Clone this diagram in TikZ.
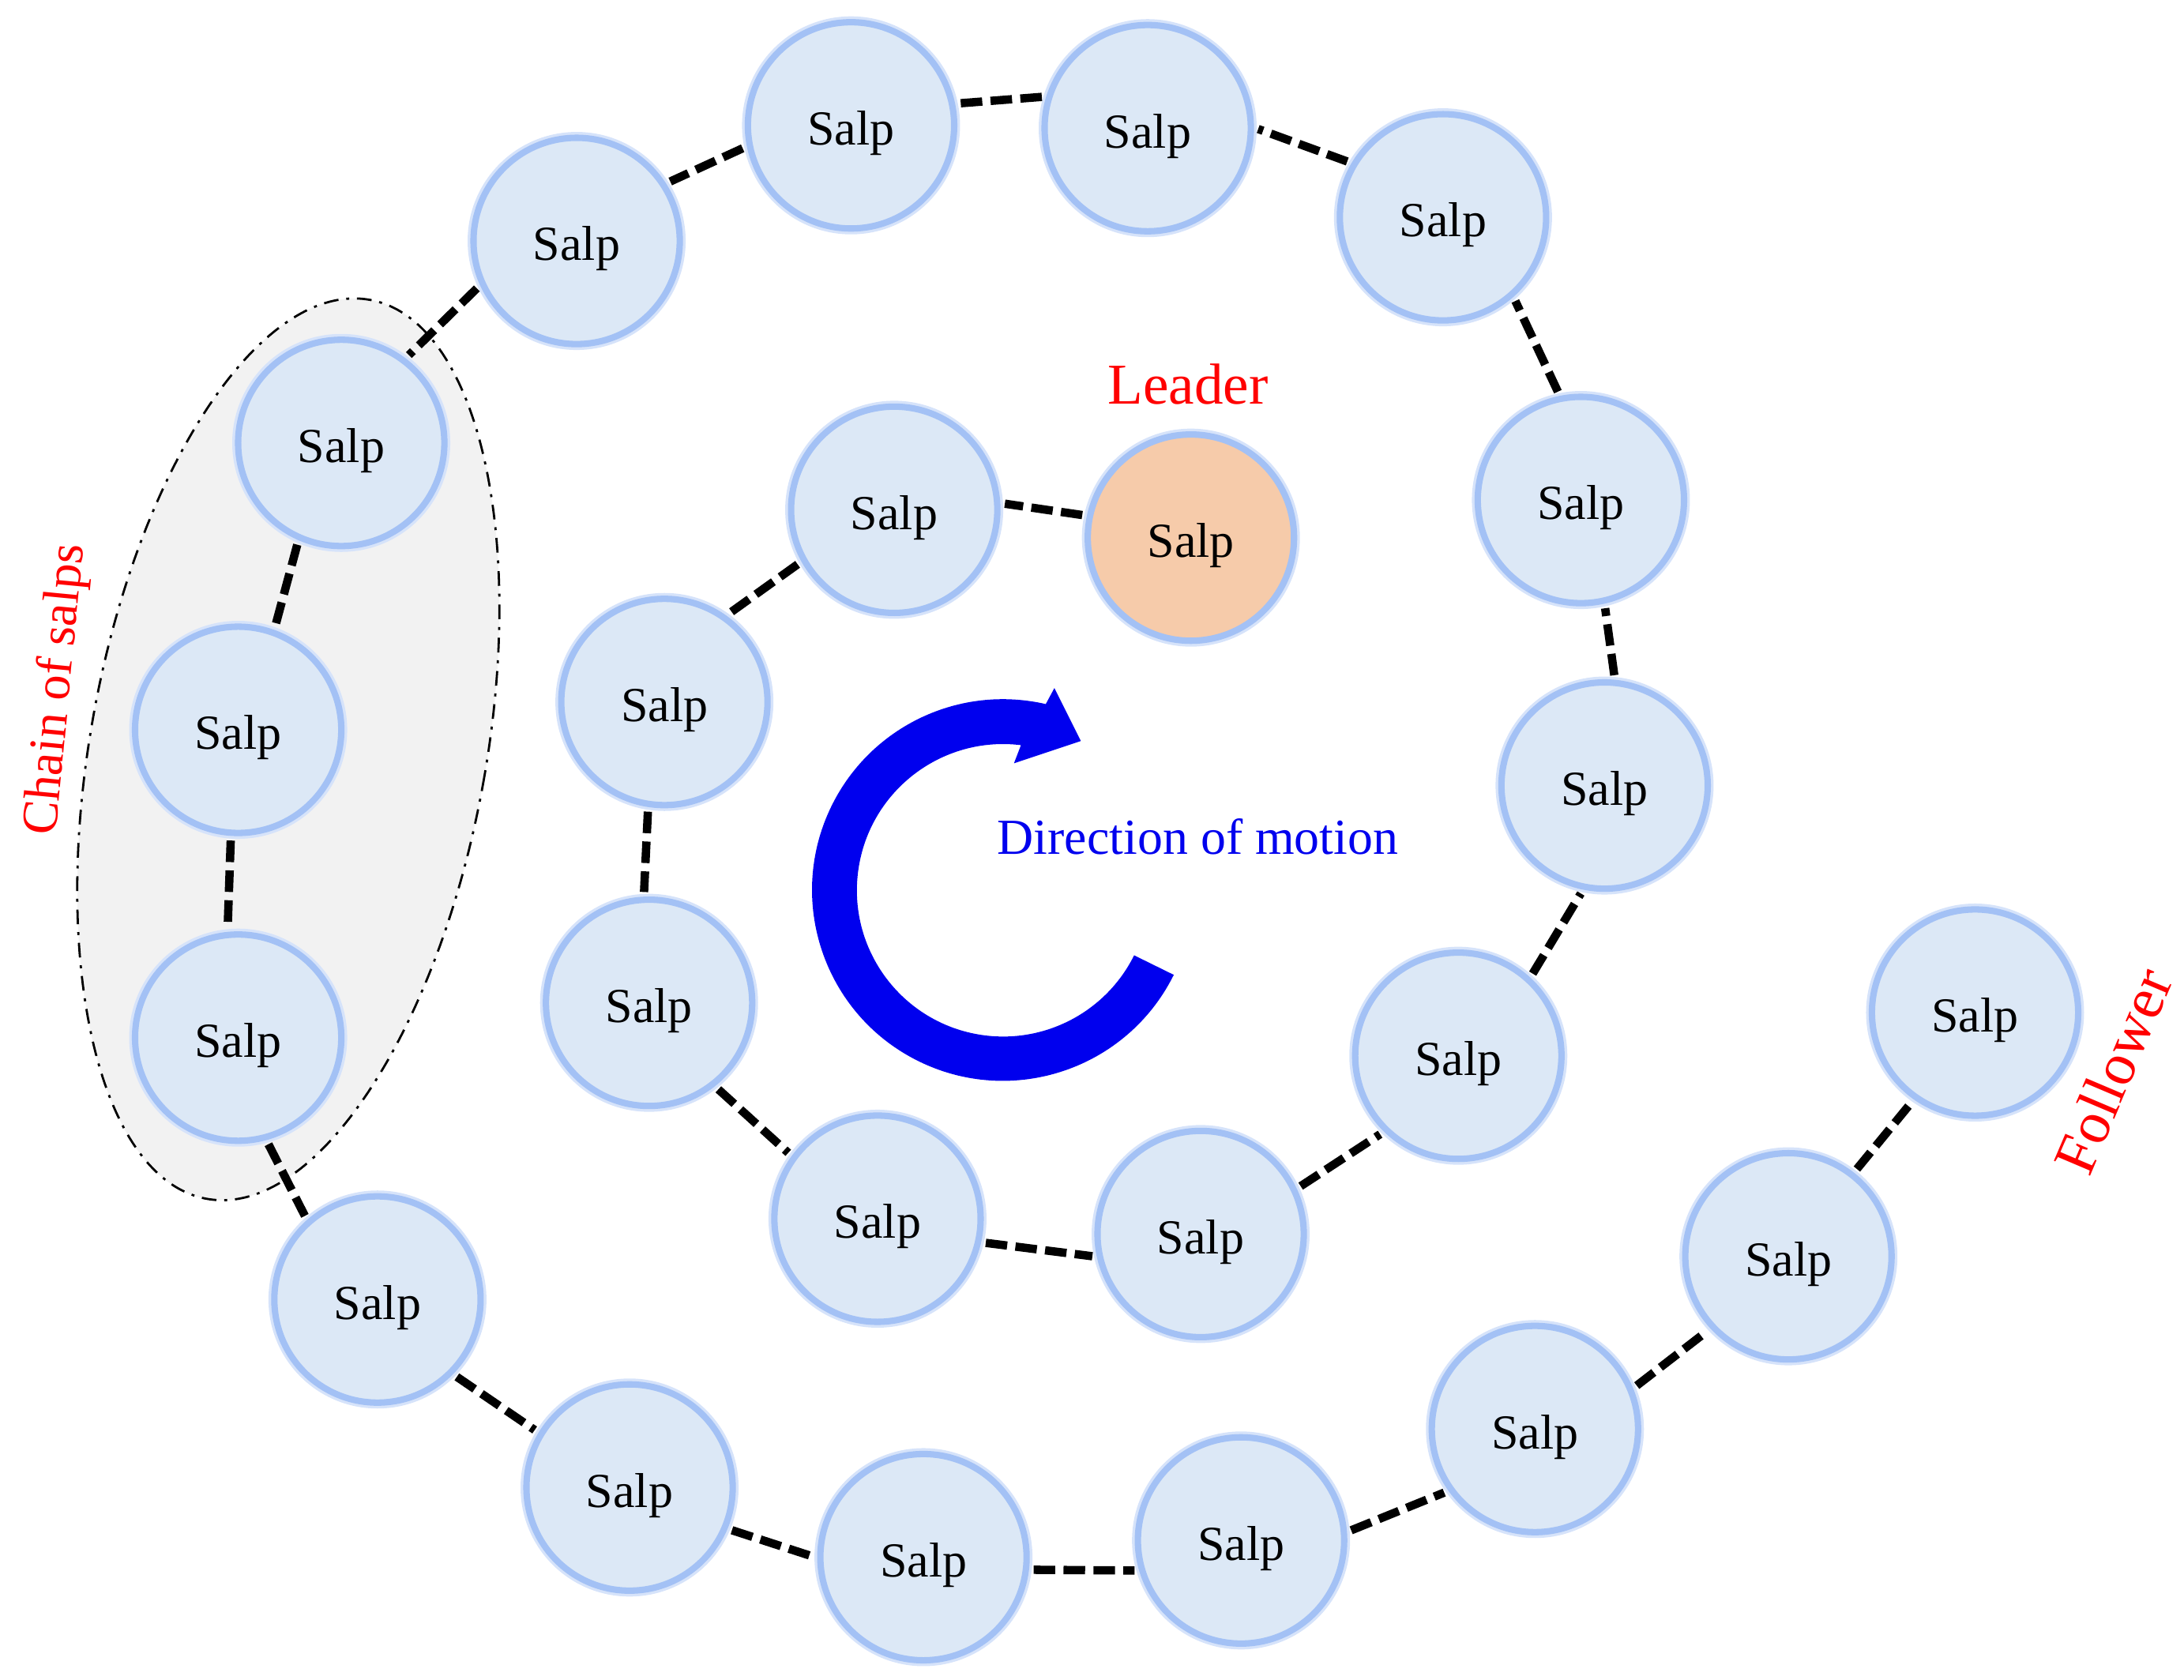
\documentclass[tikz,border=0pt]{standalone}
\usepackage{xcolor}
\usepackage{fontspec}
\setmainfont{Liberation Serif}
\usepackage{tikz}

\definecolor{salpfill}{HTML}{DCE8F6}
\definecolor{salpring}{HTML}{A3C1F5}
\definecolor{leaderfill}{HTML}{F6CBAA}
\definecolor{chainfill}{HTML}{F2F2F2}
\definecolor{motionblue}{HTML}{0000EE}

\tikzset{
    salp/.style={circle,minimum size=1.48cm,inner sep=0pt,outer sep=0pt,
        fill=salpfill,draw=salpring,line width=1.3pt,
        preaction={draw=salpring!45,line width=2.4pt},
        text height=8pt,text depth=0pt,
        font=\fontsize{10}{12}\selectfont},
    leader/.style={salp,fill=leaderfill},
    salplink/.style={black,line width=1.7pt,dash pattern=on 4.4pt off 1.7pt,
        shorten >=1.6pt,shorten <=1.6pt},
    redlabel/.style={red,inner sep=0pt},
}

\begin{document}
\begin{tikzpicture}[x=0.01cm,y=0.01cm]
        \useasboundingbox (0,0) rectangle (1568,-1206);
        % Chain region
        \draw[draw=black,fill=chainfill,line width=0.45pt,dash pattern=on 3pt off 1.6pt on 0.6pt off 1.6pt,
            rotate around={-10.3:(207,-538)}] (207,-538) ellipse (142 and 328);
        % Direction arrow
        \fill[motionblue] (720,-639) ++(-26.4:137) arc[start angle=-26.4,end angle=-283,radius=137]
            -- (757,-494) -- (776,-532) -- (728,-548) -- (733,-535)
            arc[start angle=83,end angle=333.6,radius=105] -- cycle;
        % Inner turn
        \node[leader] (s0) at (855,-386) {Salp};
        \node[salp] (s1) at (642,-366) {Salp};
        \node[salp] (s2) at (477,-504) {Salp};
        \node[salp] (s3) at (466,-720) {Salp};
        \node[salp] (s4) at (630,-875) {Salp};
        \node[salp] (s5) at (862,-886) {Salp};
        \node[salp] (s6) at (1047,-758) {Salp};
        \node[salp] (s7) at (1152,-564) {Salp};
        \node[salp] (s8) at (1135,-359) {Salp};
        \node[salp] (s9) at (1036,-156) {Salp};
        \node[salp] (s10) at (824,-92) {Salp};
        \node[salp] (s11) at (611,-90) {Salp};
        \node[salp] (s12) at (414,-173) {Salp};
        % Outer turn
        \node[salp] (s13) at (245,-318) {Salp};
        \node[salp] (s14) at (171,-524) {Salp};
        \node[salp] (s15) at (171,-745) {Salp};
        \node[salp] (s16) at (271,-933) {Salp};
        \node[salp] (s17) at (452,-1068) {Salp};
        \node[salp] (s18) at (663,-1118) {Salp};
        \node[salp] (s19) at (891,-1106) {Salp};
        \node[salp] (s20) at (1102,-1026) {Salp};
        \node[salp] (s21) at (1284,-902) {Salp};
        \node[salp] (s22) at (1418,-727) {Salp};
        % Links
        \draw[salplink] (s0.168) -- (s1.4);
        \draw[salplink] (s1.209.6) -- (s2.55.7);
        \draw[salplink] (s2.261) -- (s3.93);
        \draw[salplink] (s3.-52) -- (s4.144);
        \draw[salplink] (s4.-13) -- (s5.193);
        \draw[salplink] (s5.25) -- (s6.226.6);
        \draw[salplink] (s6.47) -- (s7.259.5);
        \draw[salplink] (s7.84) -- (s8.-77);
        \draw[salplink] (s8.101.5) -- (s9.-48);
        \draw[salplink] (s9.149) -- (s10.1);
        \draw[salplink] (s10.162) -- (s11.12);
        \draw[salplink] (s11.191) -- (s12.33);
        \draw[salplink] (s12.204) -- (s13.53);
        \draw[salplink] (s13.246) -- (s14.70.7);
        \draw[salplink] (s14.266) -- (s15.96.7);
        \draw[salplink] (s15.-75) -- (s16.132);
        \draw[salplink] (s16.-45.5) -- (s17.149.5);
        \draw[salplink] (s17.-23) -- (s18.181);
        \draw[salplink] (s18.-7.5) -- (s19.197);
        \draw[salplink] (s19.4) -- (s20.216);
        \draw[salplink] (s20.22) -- (s21.223);
        \draw[salplink] (s21.52) -- (s22.235.5);
        % Labels
        \node[redlabel,font=\fontsize{11.8}{14}\selectfont] (leaderlabel) at (853,-276) {Leader};
        \node[redlabel,font=\fontsize{12.2}{14}\selectfont,rotate=67] (followerlabel) at (1517,-769) {Follower};
        \node[redlabel,font=\fontsize{10.4}{12}\selectfont,rotate=84.5] (chainlabel) at (41,-495) {Chain of salps};
        \node[motionblue,inner sep=0pt,font=\fontsize{10.3}{12}\selectfont] (motionlabel) at (860,-601) {Direction of motion};
\end{tikzpicture}
\end{document}
